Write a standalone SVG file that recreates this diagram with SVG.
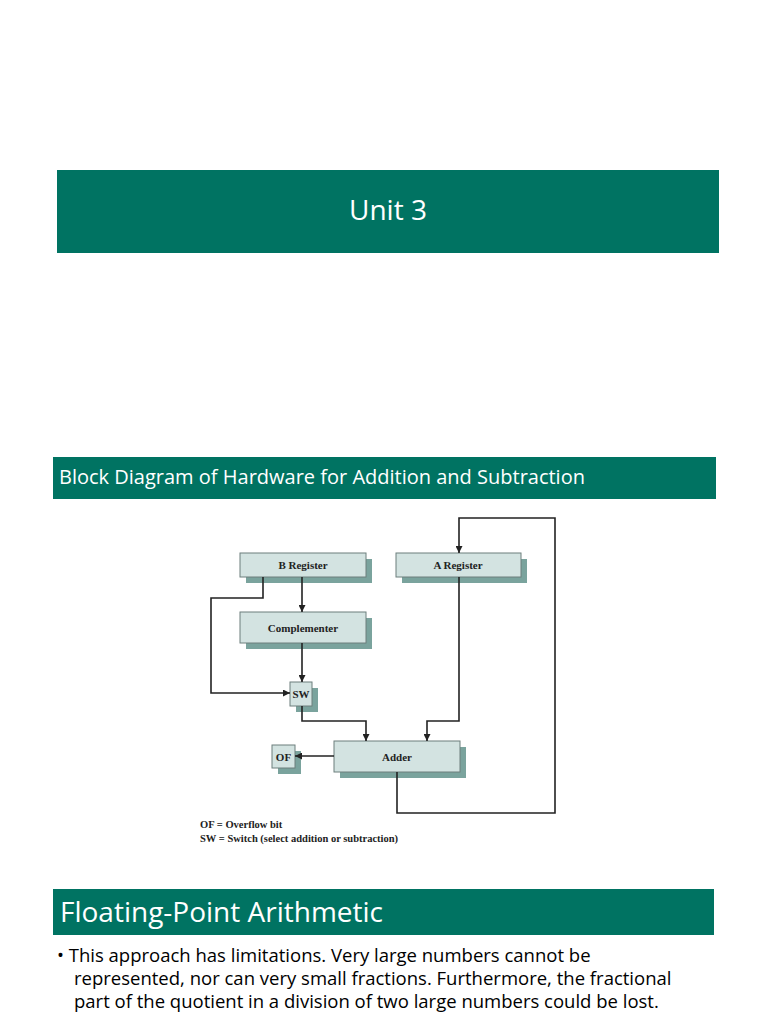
<svg xmlns="http://www.w3.org/2000/svg" width="768" height="1024" viewBox="0 0 768 1024">
<style>
.bar{fill:#007362}
.h{font-family:"Open Sans",sans-serif;fill:#fff}
.box{fill:#d3e3e1;stroke:#6d7f7d;stroke-width:1}
.sh{fill:#7aa39d}
.bt{font-family:"Liberation Serif",serif;font-weight:bold;font-size:11px;fill:#222;text-anchor:middle}
.ln{fill:none;stroke:#222;stroke-width:1.6}
.body{font-family:"Open Sans",sans-serif;font-size:18.5px;fill:#000}
</style>
<defs><marker id="a" viewBox="0 0 10 10" refX="10" refY="5" markerWidth="7" markerHeight="7" orient="auto" markerUnits="userSpaceOnUse"><path d="M0,0L10,5L0,10z" fill="#222"/></marker></defs>
<rect width="768" height="1024" fill="#fff"/>
<rect class="bar" x="57" y="170" width="662" height="83"/>
<text class="h" x="388" y="220" font-size="28" text-anchor="middle">Unit 3</text>
<rect class="bar" x="53" y="457" width="663" height="42"/>
<text class="h" x="59" y="484" font-size="20">Block Diagram of Hardware for Addition and Subtraction</text>
<g id="breg"><rect class="sh" x="246" y="559" width="126" height="24"/><rect class="box" x="240" y="553" width="126" height="24"/><text class="bt" x="303" y="569">B Register</text></g>
<g id="areg"><rect class="sh" x="402" y="559" width="125" height="24"/><rect class="box" x="396" y="553" width="125" height="24"/><text class="bt" x="458" y="569">A Register</text></g>
<g id="comp"><rect class="sh" x="246" y="618" width="126" height="31"/><rect class="box" x="240" y="612" width="126" height="31"/><text class="bt" x="303" y="632">Complementer</text></g>
<g id="sw"><rect class="sh" x="296" y="688" width="22" height="24"/><rect class="box" x="290" y="682" width="22" height="24"/><text class="bt" x="301" y="698">SW</text></g>
<g id="adder"><rect class="sh" x="340" y="747" width="126" height="31"/><rect class="box" x="334" y="741" width="126" height="31"/><text class="bt" x="397" y="761">Adder</text></g>
<g id="of"><rect class="sh" x="278" y="751" width="23" height="23"/><rect class="box" x="272" y="745" width="23" height="23"/><text class="bt" x="283.5" y="761">OF</text></g>
<g id="connectors">
<path class="ln" d="M302,577V612" marker-end="url(#a)"/>
<path class="ln" d="M263,577V598H211V693H290" marker-end="url(#a)"/>
<path class="ln" d="M302,643V682" marker-end="url(#a)"/>
<path class="ln" d="M302,706V721H366V741" marker-end="url(#a)"/>
<path class="ln" d="M459,577V721H427V741" marker-end="url(#a)"/>
<path class="ln" d="M334,756H295" marker-end="url(#a)"/>
<path class="ln" d="M397,772V813H555V518H459V553" marker-end="url(#a)"/>
</g>
<text font-family="Liberation Serif,serif" font-weight="bold" font-size="10.5" fill="#222"><tspan x="200" y="828">OF = Overflow bit</tspan><tspan x="200" y="842">SW = Switch (select addition or subtraction)</tspan></text>
<rect class="bar" x="53" y="889" width="661" height="46"/>
<text class="h" x="60" y="922" font-size="28">Floating-Point Arithmetic</text>
<text class="body"><tspan x="57" y="962">• This approach has limitations. Very large numbers cannot be</tspan><tspan x="74" y="985">represented, nor can very small fractions. Furthermore, the fractional</tspan><tspan x="74" y="1008">part of the quotient in a division of two large numbers could be lost.</tspan></text>
</svg>
